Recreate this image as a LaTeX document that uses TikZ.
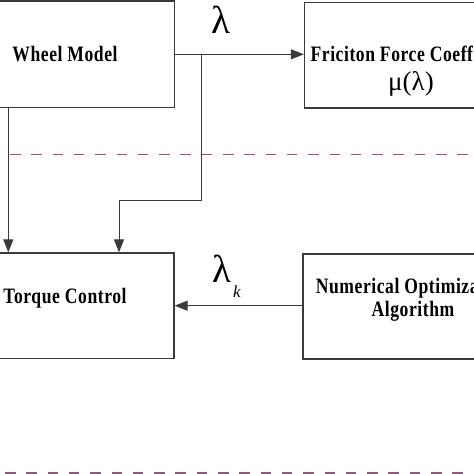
\documentclass[tikz,border=0pt]{standalone}
\usepackage{fontspec}
\setmainfont{Liberation Serif}
\newfontfamily\boxfont{Liberation Serif}[FakeStretch=0.8, LetterSpace=2.5]
\usetikzlibrary{arrows.meta}
\definecolor{edge}{HTML}{3A3A3A}
\definecolor{sepcol}{HTML}{8E5A78}
\tikzset{
  blk/.style={draw=edge, line width=1.3pt, rectangle, inner sep=0pt},
  lbl/.style={inner sep=0pt, anchor=base, font=\boxfont\bfseries\fontsize{22}{24}\selectfont},
  sym/.style={inner sep=0pt, font=\fontsize{39}{40}\selectfont},
  conn/.style={draw=edge, line width=1pt, -{Triangle[length=13pt,width=10pt]}},
  sepline/.style={draw=sepcol, line width=1.6pt, dash pattern=on 10.5pt off 10.8pt}
}
\begin{document}
\begin{tikzpicture}[x=1pt,y=-1pt]
\useasboundingbox (0,0) rectangle (474,474);
\clip (0,0) rectangle (474,474);
% boxes
\node[blk, minimum width=219.5pt, minimum height=106.5pt] (wheel) at (64.75,54.25) {};
\node[blk, minimum width=217pt, minimum height=105.5pt] (fric) at (413,55.25) {};
\node[blk, minimum width=219pt, minimum height=105.5pt] (torque) at (64.5,305.75) {};
\node[blk, minimum width=220pt, minimum height=105pt] (numopt) at (413,306.5) {};
% box texts
\node[lbl] (twheel) at (65,61.7) {Wheel Model};
\node[lbl] (tfric) at (414,61.7) {Friciton Force Coefficient};
\node[inner sep=0pt, font=\fontsize{27}{28}\selectfont] (tmu) at (411,83.5) {μ(λ)};
\node[lbl] (ttorque) at (65,303.3) {Torque Control};
\node[lbl] (tnum1) at (413,293) {Numerical Optimization};
\node[lbl] (tnum2) at (413,316.5) {Algorithm};
% separators
\draw[sepline] (10,154.3) -- (474,154.3);
\draw[sepline, line width=2.6pt] (5,473.5) -- (474,473.5);
% connectors
\draw[conn] (wheel.east |- 0,54.3) -- (fric.west |- 0,54.3);
\coordinate (br) at (201.3,54.3);
\coordinate (bend) at (119,200);
\draw[conn] (br) |- (bend) -- (bend |- torque.north);
\coordinate (wl) at (8.3,107.5);
\draw[conn] (wl) -- (wl |- torque.north);
\draw[conn] (numopt.west |- 0,305.7) -- (torque.east |- 0,305.7);
% signal labels
\node[sym] (lam) at (220.5,19.5) {λ};
\node[sym] (lamk) at (221.5,268.5) {λ};
\node[inner sep=0pt, font=\itshape\fontsize{17}{18}\selectfont] (kk) at (237,291.5) {k};
\end{tikzpicture}
\end{document}
